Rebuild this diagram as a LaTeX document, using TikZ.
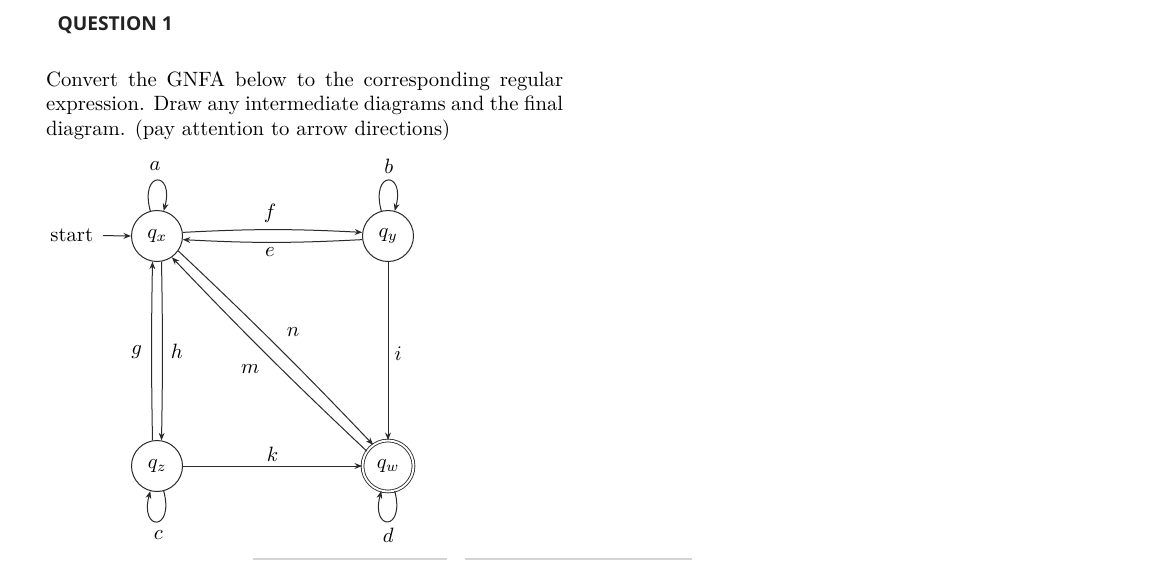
\documentclass[tikz,border=0pt]{standalone}
\usepackage{fontspec}
\setmainfont{lmroman10-regular}[Extension=.otf]
\newfontfamily\qfont{Open Sans}
\DeclareFontShape{OML}{cmm}{m}{it}{<-15>cmmi7<15->cmmi10}{}
\usetikzlibrary{arrows.meta}
\definecolor{linec}{HTML}{2A2A2A}
\definecolor{titlec}{HTML}{222222}
\definecolor{barc}{HTML}{D4D4D4}
\newcommand\bodyfont{\fontsize{20.7}{24.8}\selectfont}
\begin{document}
\begin{tikzpicture}[x=1pt,y=1pt,
  state/.style={circle,draw=linec,line width=1pt,minimum size=51pt,inner sep=0pt,font=\bodyfont},
  accst/.style={state,double=white,double distance=1.9pt,line width=0.85pt},
  tr/.style={draw=linec,line width=1pt,-{Stealth[length=7.5pt,width=5.8pt]}},
  lab/.style={font=\bodyfont,inner sep=0pt,anchor=center},
  every loop/.style={}]
\fill[white] (0,0) rectangle (1161,-560);
\useasboundingbox (0,0) rectangle (1161,-560);

% heading and text
\node[font=\qfont\bfseries\fontsize{19.2}{23}\selectfont, text=titlec, inner sep=0pt, anchor=base west] (qn) at (57.3,-30) {QUESTION 1};
\node[lab, anchor=base west] (l1) at (46,-86) {\makebox[517pt][s]{Convert the GNFA below to the corresponding regular}};
\node[lab, anchor=base west] (l2) at (46,-110.8) {\makebox[517pt][s]{expression. Draw any intermediate diagrams and the final}};
\node[lab, anchor=base west] (l3) at (46,-135.6) {diagram. (pay attention to arrow directions)};

% states
\node[state] (qx) at (157,-236) {$q_x$};
\node[state] (qy) at (388,-236) {$q_y$};
\node[state] (qz) at (157,-466) {$q_z$};
\node[accst] (qw) at (388,-466) {$q_w$};

% start
\node[lab, anchor=base east] (stt) at (93.3,-241.7) {start};
\draw[tr, shorten <=9.7pt] (stt.east) -- (qx.west);

% loops
\path (qx) edge[loop above, tr] node[lab, shift={(-2,14.5)}] {$a$} ();
\path (qy) edge[loop above, tr] node[lab, shift={(0.7,14.5)}] {$b$} ();
\path (qz) edge[loop below, tr] node[lab, shift={(1.3,-13.3)}] {$c$} ();
\path (qw) edge[loop below, tr] node[lab, shift={(0.3,-13.9)}] {$d$} ();

% transitions
\draw[tr] (qx.8) to[bend left=3] node[lab, midway, shift={(-2.5,16.6)}] {$f$} (qy.172);
\draw[tr] (qy.188) to[bend left=3] node[lab, midway, shift={(-2.5,-10)}] {$e$} (qx.-8);
\draw[tr] (qz.100) to[bend left=1] node[lab, midway, shift={(-15,-1.5)}] {$g$} (qx.260);
\draw[tr] (qx.280) to[bend left=1] node[lab, midway, shift={(14.3,-0.7)}] {$h$} (qz.80);
\draw[tr] (qx.-35) to[bend left=1.5] node[lab, midway, shift={(15.8,13.9)}] {$n$} (qw.125);
\draw[tr] (qw.145) to[bend left=1.5] node[lab, midway, shift={(-17.6,-13.1)}] {$m$} (qx.-55);
\draw[tr] (qy) -- node[lab, midway, shift={(10.3,-3.1)}] {$i$} (qw);
\draw[tr] (qz) -- node[lab, midway, shift={(0,11.8)}] {$k$} (qw);

% grey bars at the bottom
\fill[barc] (253,-557.5) rectangle (447,-560);
\fill[barc] (465,-557.5) rectangle (692,-560);
\end{tikzpicture}
\end{document}
